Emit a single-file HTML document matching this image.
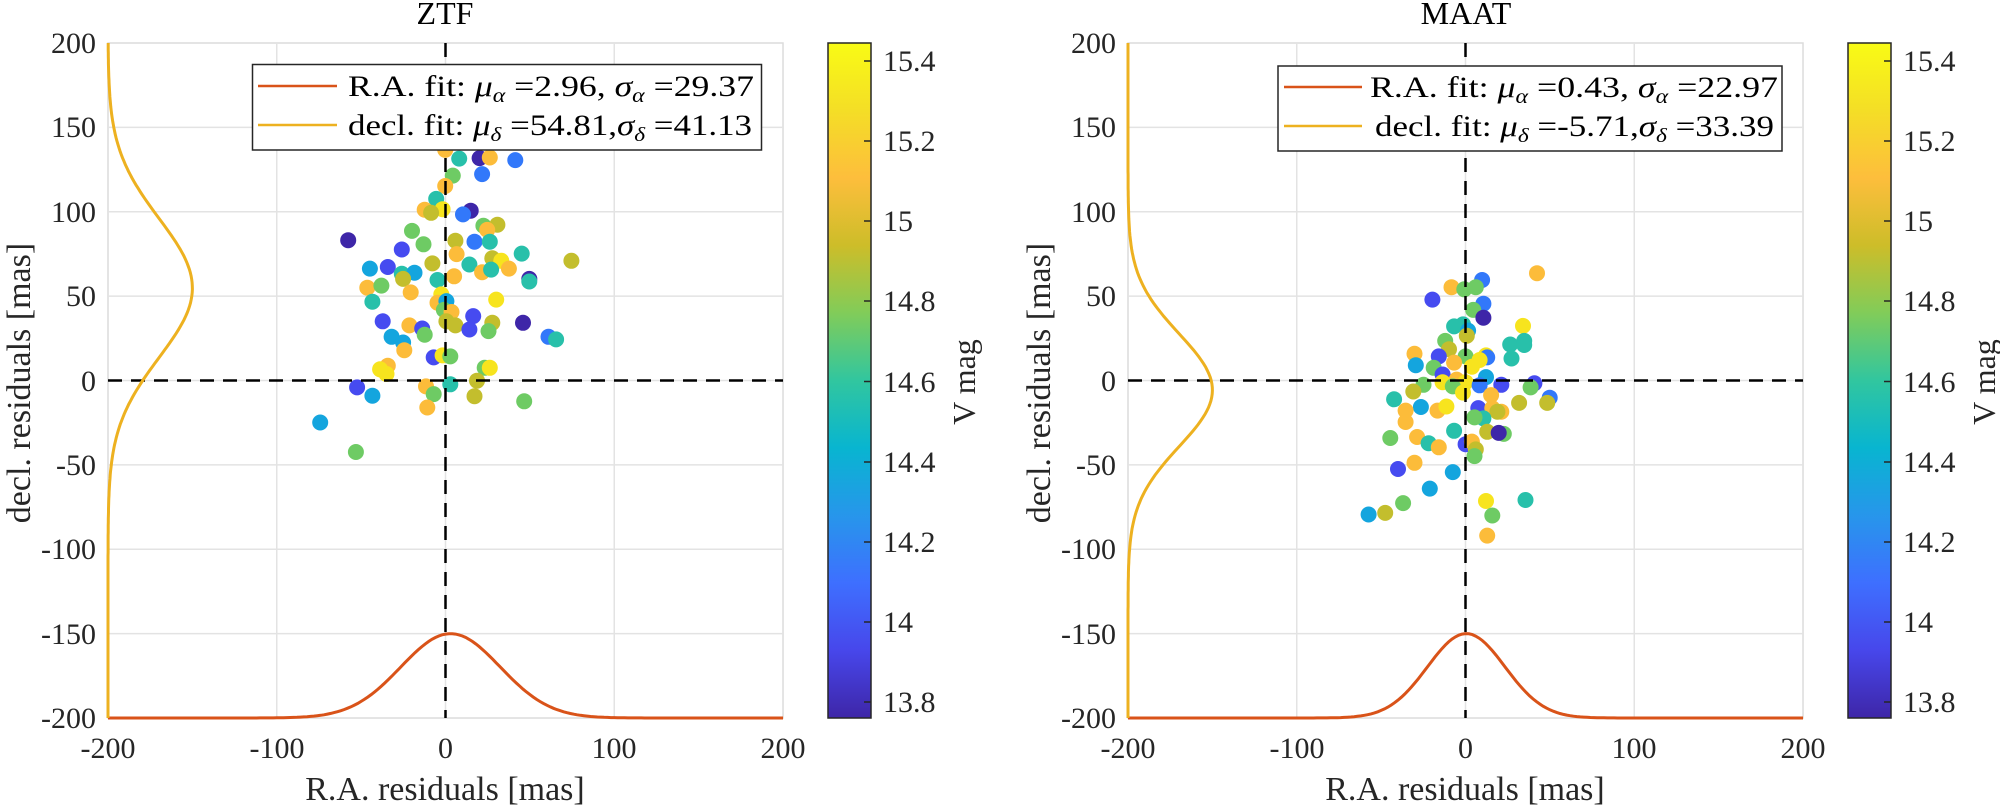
<!DOCTYPE html>
<html><head><meta charset="utf-8"><style>
html,body{margin:0;padding:0;background:#fff;}
svg{display:block;font-family:"Liberation Serif",serif;}
svg text{font-family:"Liberation Serif",serif;}
.tk{font-size:30px;fill:#262626;font-family:"Liberation Serif",serif;}
.lab{font-size:34px;fill:#262626;font-family:"Liberation Serif",serif;}
.lg{font-size:30px;fill:#000;font-family:"Liberation Serif",serif;}
</style></head><body>
<svg id="s" width="2000" height="810" viewBox="0 0 2000 810" xmlns="http://www.w3.org/2000/svg" font-family="Liberation Serif, serif">
<defs>
<linearGradient id="par" x1="0" y1="1" x2="0" y2="0">
<stop offset="0" stop-color="rgb(62,38,168)"/>
<stop offset="0.1" stop-color="rgb(71,71,235)"/>
<stop offset="0.2" stop-color="rgb(62,111,255)"/>
<stop offset="0.3" stop-color="rgb(39,150,235)"/>
<stop offset="0.4" stop-color="rgb(8,181,208)"/>
<stop offset="0.5" stop-color="rgb(49,198,159)"/>
<stop offset="0.6" stop-color="rgb(129,204,89)"/>
<stop offset="0.7" stop-color="rgb(205,189,41)"/>
<stop offset="0.8" stop-color="rgb(253,190,60)"/>
<stop offset="0.9" stop-color="rgb(244,222,38)"/>
<stop offset="1" stop-color="rgb(249,251,21)"/>
</linearGradient>
</defs>

<g id="p1">
<rect x="108" y="43" width="675" height="675" fill="#fff" stroke="#dcdcdc" stroke-width="1.5"/>
<g id="grid1" stroke="#e3e3e3" stroke-width="1.5"></g>
<g id="pts1"></g>
<line x1="445.5" y1="43" x2="445.5" y2="718" stroke="#000" stroke-width="2.5" stroke-dasharray="14,9"/>
<line x1="108" y1="380.5" x2="783" y2="380.5" stroke="#000" stroke-width="2.5" stroke-dasharray="14,9"/>
<path id="ra1" fill="none" stroke="#D95319" stroke-width="3"/>
<path id="de1" fill="none" stroke="#EDB120" stroke-width="3"/>
<text x="445" y="24" text-anchor="middle" style="font-size:32px" fill="#000">ZTF</text>
<g class="tk" text-anchor="end">
<text x="96" y="53">200</text><text x="96" y="137">150</text><text x="96" y="222">100</text>
<text x="96" y="306">50</text><text x="96" y="391">0</text><text x="96" y="475">-50</text>
<text x="96" y="559">-100</text><text x="96" y="644">-150</text><text x="96" y="728">-200</text>
</g>
<g class="tk" text-anchor="middle">
<text x="108" y="758">-200</text><text x="277" y="758">-100</text><text x="445.5" y="758">0</text>
<text x="614" y="758">100</text><text x="783" y="758">200</text>
</g>
<text class="lab" x="445" y="800" text-anchor="middle">R.A. residuals [mas]</text>
<text class="lab" transform="translate(30,383) rotate(-90)" text-anchor="middle">decl. residuals [mas]</text>
<rect x="252.5" y="64.5" width="509" height="85.5" fill="#fff" stroke="#262626" stroke-width="1.5"/>
<line x1="258" y1="86" x2="337" y2="86" stroke="#D95319" stroke-width="2.5"/>
<line x1="258" y1="125" x2="337" y2="125" stroke="#EDB120" stroke-width="2.5"/>
<text class="lg" x="348" y="96" textLength="406" lengthAdjust="spacingAndGlyphs">R.A. fit: <tspan font-style="italic">μ</tspan><tspan font-size="20" dy="6" font-style="italic">α</tspan><tspan dy="-6"> =2.96, </tspan><tspan font-style="italic">σ</tspan><tspan font-size="20" dy="6" font-style="italic">α</tspan><tspan dy="-6"> =29.37</tspan></text>
<text class="lg" x="348" y="135" textLength="404" lengthAdjust="spacingAndGlyphs">decl. fit: <tspan font-style="italic">μ</tspan><tspan font-size="20" dy="6" font-style="italic">δ</tspan><tspan dy="-6"> =54.81,</tspan><tspan font-style="italic">σ</tspan><tspan font-size="20" dy="6" font-style="italic">δ</tspan><tspan dy="-6"> =41.13</tspan></text>
<rect x="828" y="43" width="43" height="675" fill="url(#par)" stroke="#262626" stroke-width="1.5"/>
<g stroke="#262626" stroke-width="1.5">
<line x1="864" y1="61" x2="871" y2="61"/><line x1="864" y1="141" x2="871" y2="141"/><line x1="864" y1="221" x2="871" y2="221"/>
<line x1="864" y1="301" x2="871" y2="301"/><line x1="864" y1="381.5" x2="871" y2="381.5"/><line x1="864" y1="462" x2="871" y2="462"/>
<line x1="864" y1="542" x2="871" y2="542"/><line x1="864" y1="622" x2="871" y2="622"/><line x1="864" y1="702" x2="871" y2="702"/>
</g>
<g class="tk">
<text x="883" y="71">15.4</text><text x="883" y="151">15.2</text><text x="883" y="231">15</text>
<text x="883" y="311">14.8</text><text x="883" y="392">14.6</text><text x="883" y="472">14.4</text>
<text x="883" y="552">14.2</text><text x="883" y="632">14</text><text x="883" y="712">13.8</text>
</g>
<text class="lab" style="font-size:32px" transform="translate(975,382) rotate(-90)" text-anchor="middle">V mag</text>
</g>

<g id="p2" transform="translate(1020,0)">
<rect x="108" y="43" width="675" height="675" fill="#fff" stroke="#dcdcdc" stroke-width="1.5"/>
<g id="grid2" stroke="#e3e3e3" stroke-width="1.5"></g>
<g id="pts2"></g>
<line x1="445.5" y1="43" x2="445.5" y2="718" stroke="#000" stroke-width="2.5" stroke-dasharray="14,9"/>
<line x1="108" y1="380.5" x2="783" y2="380.5" stroke="#000" stroke-width="2.5" stroke-dasharray="14,9"/>
<path id="ra2" fill="none" stroke="#D95319" stroke-width="3"/>
<path id="de2" fill="none" stroke="#EDB120" stroke-width="3"/>
<text x="446" y="24" text-anchor="middle" style="font-size:32px" fill="#000">MAAT</text>
<g class="tk" text-anchor="end">
<text x="96" y="53">200</text><text x="96" y="137">150</text><text x="96" y="222">100</text>
<text x="96" y="306">50</text><text x="96" y="391">0</text><text x="96" y="475">-50</text>
<text x="96" y="559">-100</text><text x="96" y="644">-150</text><text x="96" y="728">-200</text>
</g>
<g class="tk" text-anchor="middle">
<text x="108" y="758">-200</text><text x="277" y="758">-100</text><text x="445.5" y="758">0</text>
<text x="614" y="758">100</text><text x="783" y="758">200</text>
</g>
<text class="lab" x="445" y="800" text-anchor="middle">R.A. residuals [mas]</text>
<text class="lab" transform="translate(30,383) rotate(-90)" text-anchor="middle">decl. residuals [mas]</text>
<rect x="258" y="66" width="504" height="85" fill="#fff" stroke="#262626" stroke-width="1.5"/>
<line x1="264" y1="87" x2="342" y2="87" stroke="#D95319" stroke-width="2.5"/>
<line x1="264" y1="126" x2="342" y2="126" stroke="#EDB120" stroke-width="2.5"/>
<text class="lg" x="350" y="97" textLength="408" lengthAdjust="spacingAndGlyphs">R.A. fit: <tspan font-style="italic">μ</tspan><tspan font-size="20" dy="6" font-style="italic">α</tspan><tspan dy="-6"> =0.43, </tspan><tspan font-style="italic">σ</tspan><tspan font-size="20" dy="6" font-style="italic">α</tspan><tspan dy="-6"> =22.97</tspan></text>
<text class="lg" x="355" y="136" textLength="399" lengthAdjust="spacingAndGlyphs">decl. fit: <tspan font-style="italic">μ</tspan><tspan font-size="20" dy="6" font-style="italic">δ</tspan><tspan dy="-6"> =-5.71,</tspan><tspan font-style="italic">σ</tspan><tspan font-size="20" dy="6" font-style="italic">δ</tspan><tspan dy="-6"> =33.39</tspan></text>
<rect x="828" y="43" width="43" height="675" fill="url(#par)" stroke="#262626" stroke-width="1.5"/>
<g stroke="#262626" stroke-width="1.5">
<line x1="864" y1="61" x2="871" y2="61"/><line x1="864" y1="141" x2="871" y2="141"/><line x1="864" y1="221" x2="871" y2="221"/>
<line x1="864" y1="301" x2="871" y2="301"/><line x1="864" y1="381.5" x2="871" y2="381.5"/><line x1="864" y1="462" x2="871" y2="462"/>
<line x1="864" y1="542" x2="871" y2="542"/><line x1="864" y1="622" x2="871" y2="622"/><line x1="864" y1="702" x2="871" y2="702"/>
</g>
<g class="tk">
<text x="883" y="71">15.4</text><text x="883" y="151">15.2</text><text x="883" y="231">15</text>
<text x="883" y="311">14.8</text><text x="883" y="392">14.6</text><text x="883" y="472">14.4</text>
<text x="883" y="552">14.2</text><text x="883" y="632">14</text><text x="883" y="712">13.8</text>
</g>
<text class="lab" style="font-size:32px" transform="translate(975,382) rotate(-90)" text-anchor="middle">V mag</text>
</g>
</svg>
<script>
var C={D:"rgb(62,38,168)",B:"rgb(70,75,240)",b:"rgb(50,120,250)",c:"rgb(20,165,222)",t:"rgb(40,192,170)",g:"rgb(110,203,100)",G:"rgb(195,190,45)",O:"rgb(252,188,58)",Y:"rgb(247,228,30)"};
function X(u){return 108+(u+200)*1.6875;}function Y(v){return 43+(200-v)*1.6875;}
function grid(id){var g=document.getElementById(id),s="";
[-100,0,100].forEach(function(u){s+='<line x1="'+X(u)+'" y1="43" x2="'+X(u)+'" y2="718"/>';});
[150,100,50,0,-50,-100,-150].forEach(function(v){s+='<line x1="108" y1="'+Y(v)+'" x2="783" y2="'+Y(v)+'"/>';});
g.innerHTML=s;}
grid("grid1");grid("grid2");
function curves(ra,de,m1,s1,m2,s2){var d="",e="";
for(var u=-200;u<=200;u+=2){var v=-200+50*Math.exp(-(u-m1)*(u-m1)/(2*s1*s1));d+=(u==-200?"M":"L")+X(u).toFixed(1)+","+Y(v).toFixed(1);}
for(var v=-200;v<=200;v+=2){var u=-200+50*Math.exp(-(v-m2)*(v-m2)/(2*s2*s2));e+=(v==-200?"M":"L")+X(u).toFixed(1)+","+Y(v).toFixed(1);}
document.getElementById(ra).setAttribute("d",d);document.getElementById(de).setAttribute("d",e);}
curves("ra1","de1",2.96,29.37,54.81,41.13);curves("ra2","de2",0.43,22.97,-5.71,33.39);
var P1=[[698,290,"O"],[720,307,"t"],[752,306,"D"],[768,305,"O"],[808,310,"b"],[710,340,"g"],[756,337,"b"],[698,360,"O"],[684,385,"t"],[666,406,"O"],[694,405,"Y"],[676,412,"G"],[738,408,"D"],[726,415,"b"],[646,447,"g"],[758,437,"g"],[780,435,"G"],[764,445,"O"],[546,465,"D"],[630,483,"B"],[664,473,"g"],[714,466,"G"],[744,468,"b"],[768,468,"t"],[716,492,"O"],[818,491,"t"],[896,505,"G"],[580,520,"c"],[608,517,"B"],[630,530,"t"],[650,528,"c"],[678,510,"G"],[736,512,"t"],[772,500,"G"],[786,505,"Y"],[798,520,"O"],[756,527,"O"],[770,522,"t"],[712,535,"O"],[686,542,"t"],[632,540,"G"],[830,540,"D"],[830,545,"t"],[576,557,"O"],[598,553,"g"],[644,566,"O"],[692,570,"Y"],[686,586,"O"],[700,583,"c"],[584,584,"t"],[778,580,"Y"],[696,600,"g"],[708,604,"O"],[742,612,"B"],[600,622,"B"],[642,630,"O"],[700,622,"G"],[714,630,"G"],[772,625,"G"],[820,625,"D"],[662,636,"B"],[736,638,"B"],[766,641,"g"],[666,648,"g"],[614,652,"c"],[632,663,"c"],[634,678,"O"],[860,652,"b"],[872,657,"t"],[680,692,"B"],[694,688,"Y"],[706,690,"g"],[608,708,"O"],[596,715,"Y"],[606,724,"Y"],[760,712,"g"],[768,712,"Y"],[748,737,"G"],[668,748,"O"],[706,744,"t"],[560,750,"B"],[584,766,"c"],[680,763,"g"],[744,767,"G"],[822,777,"g"],[670,789,"O"],[502,818,"c"],[558,875,"g"]];
var P2=[[842,529,"O"],[756,542,"b"],[708,556,"O"],[728,560,"g"],[746,556,"g"],[678,580,"B"],[758,588,"b"],[742,600,"g"],[758,615,"D"],[712,632,"t"],[726,628,"t"],[734,640,"c"],[820,631,"Y"],[732,650,"G"],[698,660,"g"],[704,676,"G"],[800,667,"t"],[822,660,"t"],[822,668,"t"],[650,685,"O"],[688,690,"B"],[762,688,"Y"],[764,692,"b"],[730,690,"g"],[712,702,"O"],[752,697,"Y"],[802,694,"t"],[652,707,"c"],[680,712,"g"],[740,710,"Y"],[694,725,"B"],[762,730,"c"],[716,735,"O"],[730,740,"Y"],[752,746,"b"],[786,745,"B"],[838,742,"B"],[832,750,"g"],[664,745,"g"],[694,740,"Y"],[710,748,"g"],[648,758,"G"],[726,760,"Y"],[770,765,"O"],[862,770,"b"],[858,780,"G"],[618,773,"t"],[814,780,"G"],[660,788,"c"],[636,795,"O"],[686,795,"O"],[700,787,"Y"],[750,790,"B"],[772,790,"O"],[786,797,"O"],[780,797,"G"],[758,810,"t"],[744,808,"g"],[636,817,"O"],[712,834,"t"],[764,836,"G"],[790,840,"g"],[782,838,"D"],[612,848,"g"],[654,846,"O"],[672,858,"t"],[688,866,"O"],[730,860,"B"],[740,855,"O"],[746,870,"G"],[744,883,"g"],[650,896,"O"],[624,908,"B"],[710,914,"c"],[674,946,"c"],[762,970,"Y"],[824,968,"t"],[632,974,"g"],[578,996,"c"],[604,993,"G"],[772,998,"g"],[764,1037,"O"]];
function pts(id,P,off){var s="";P.forEach(function(p){s+='<circle cx="'+(p[0]/1.568+off).toFixed(1)+'" cy="'+(p[1]/1.936).toFixed(1)+'" r="8" fill="'+C[p[2]]+'"/>';});document.getElementById(id).innerHTML=s;}
pts("pts1",P1,0);pts("pts2",P2,-20);
</script>
</body></html>
